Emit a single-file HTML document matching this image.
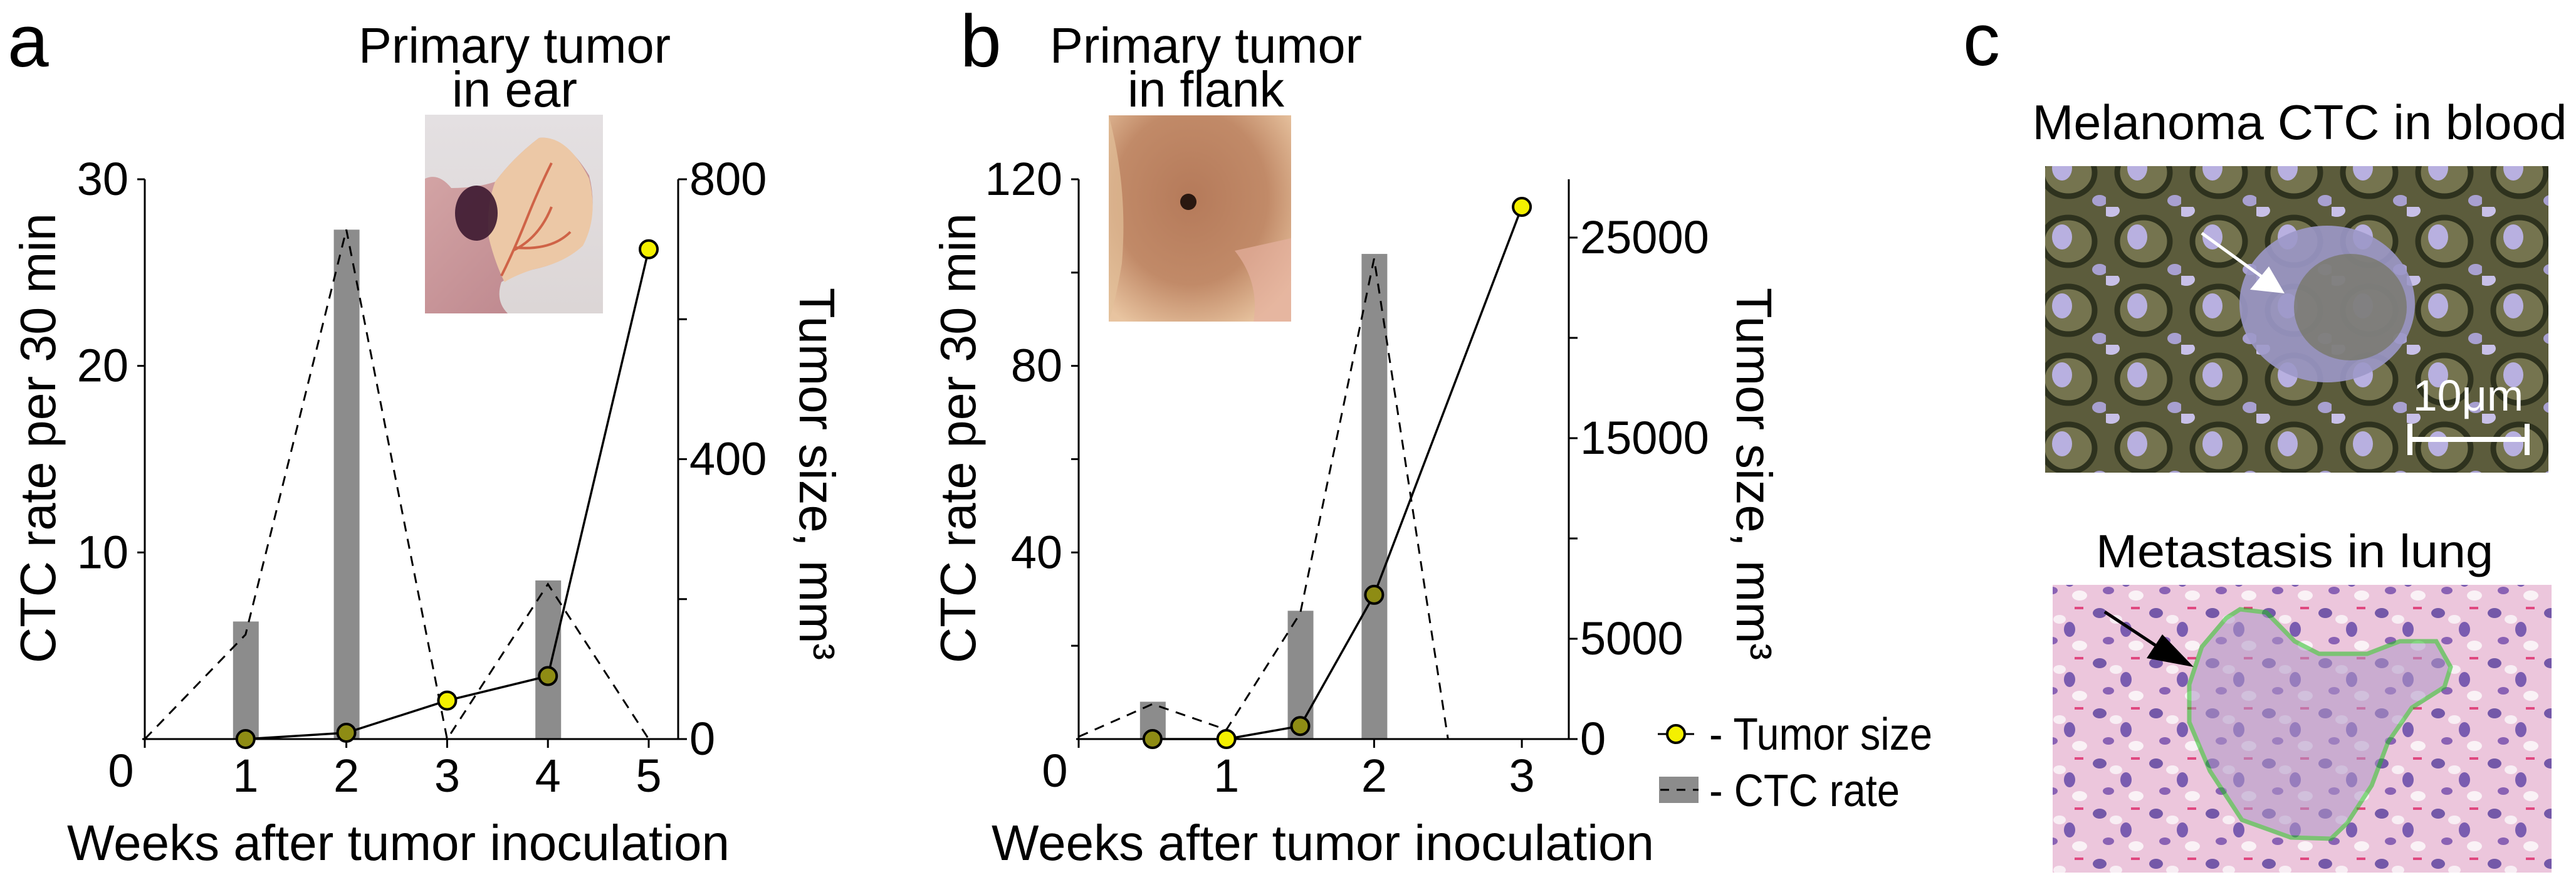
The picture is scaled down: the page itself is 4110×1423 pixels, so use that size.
<!DOCTYPE html>
<html><head><meta charset="utf-8"><style>
html,body{margin:0;padding:0;background:#fff}
svg{display:block}
text{font-family:"Liberation Sans",Arial,sans-serif;fill:#000}
</style></head><body>
<svg id="fig" width="4110" height="1423" viewBox="0 0 4110 1423" xmlns="http://www.w3.org/2000/svg">
<defs>
<radialGradient id="flankG" cx="0.45" cy="0.4" r="0.7"><stop offset="0" stop-color="#b57a5a"/><stop offset="0.6" stop-color="#c18a68"/><stop offset="1" stop-color="#e8c4a0"/></radialGradient>
<linearGradient id="earBg" x1="0" y1="0" x2="0" y2="1"><stop offset="0" stop-color="#e4e0e2"/><stop offset="1" stop-color="#dcd6d6"/></linearGradient>
<linearGradient id="bodyG" x1="0" y1="0" x2="1" y2="1"><stop offset="0" stop-color="#d6a8a8"/><stop offset="1" stop-color="#b88088"/></linearGradient>
<pattern id="bloodP" width="120" height="110" patternUnits="userSpaceOnUse">
<rect width="120" height="110" fill="#5c5c3c"/>
<ellipse cx="60" cy="55" rx="42" ry="38" fill="#75744f" stroke="#2e321e" stroke-width="9"/>
<ellipse cx="50" cy="48" rx="16" ry="20" fill="#b8b0e0"/>
<ellipse cx="8" cy="6" rx="14" ry="10" fill="#c8c0e8"/>
<ellipse cx="110" cy="100" rx="12" ry="9" fill="#a8a0d0"/>
</pattern>
<pattern id="lungP" width="90" height="80" patternUnits="userSpaceOnUse">
<rect width="90" height="80" fill="#ecc6dc"/>
<ellipse cx="20" cy="18" rx="11" ry="8" fill="#7458a8"/>
<ellipse cx="62" cy="44" rx="9" ry="12" fill="#7a5cb0"/>
<ellipse cx="34" cy="62" rx="9" ry="6" fill="#8a62b4"/>
<rect x="70" y="8" width="14" height="4" fill="#e04880"/>
<ellipse cx="78" cy="70" rx="12" ry="8" fill="#faf2f6"/>
<ellipse cx="46" cy="28" rx="10" ry="7" fill="#f8eef4"/>
</pattern>
</defs>
<g id="root"></g>
</svg>
<script>
// ---- Panel a data ----
const aBarWeeks = [1, 2, 4];
const aBarValues = [6.3, 27.3, 8.5];
const aDashWeeks = [0, 1, 2, 3, 4, 5];
const aDashValues = [0, 5.6, 27.3, 0, 8.3, 0];
const aTumorWeeks = [1, 2, 3, 4, 5];
const aTumorValues = [0, 9, 55, 90, 700];
const aTumorYellow = [false, false, true, false, true];
const aXTicks = [0, 1, 2, 3, 4, 5];
const aXTickLabels = ["", "1", "2", "3", "4", "5"];
const aLeftTicks = [10, 20, 30];
const aLeftTickLabels = ["10", "20", "30"];
const aRightTicks = [0, 200, 400, 600, 800];
const aRightTickLabels = ["0", "", "400", "", "800"];
// ---- Panel b data ----
const bBarWeeks = [0.5, 1.5, 2];
const bBarValues = [8, 27.5, 104];
const bDashWeeks = [0, 0.5, 1, 1.5, 2, 2.5, 3];
const bDashValues = [0.5, 7.5, 2, 27, 103, 0, 0];
const bTumorWeeks = [0.5, 1, 1.5, 2, 3];
const bTumorValues = [0, 0, 650, 7190, 26530];
const bTumorYellow = [false, true, false, false, true];
const bXTicks = [0, 1, 2, 3];
const bXTickLabels = ["", "1", "2", "3"];
const bLeftTicks = [20, 40, 60, 80, 100, 120];
const bLeftTickLabels = ["", "40", "", "80", "", "120"];
const bRightTicks = [0, 5000, 10000, 15000, 20000, 25000];
const bRightTickLabels = ["0", "5000", "", "15000", "", "25000"];

const NS = "http://www.w3.org/2000/svg";
const root = document.getElementById("root");
function el(tag, attrs, parent, txt) {
  const e = document.createElementNS(NS, tag);
  for (const k in attrs) e.setAttribute(k, attrs[k]);
  if (txt !== undefined) e.textContent = txt;
  (parent || root).appendChild(e);
  return e;
}

function drawChart(cfg) {
  const g = el("g", {});
  
  
  const X = v => cfg.x0 + v * cfg.xs;
  const YL = v => cfg.yBase - v * cfg.yls;
  const YR = v => cfg.yBase - v * cfg.yrs;
  cfg.barW.forEach((w, i) => {
    const h = cfg.barV[i];
    const r = el("rect", {x: X(w) - 20, y: YL(h), width: 41, height: cfg.yBase - YL(h), fill: "#8c8c8c"}, g);
    
    
  });
  const ax = el("path", {d: `M${cfg.x0 - 4} ${cfg.yBase} H${cfg.xR} M${cfg.x0} ${cfg.yTop} V${cfg.yBase + 14} M${cfg.xR} ${cfg.yTop} V${cfg.yBase}`, stroke: "#000", "stroke-width": 3, fill: "none"}, g);
  
  
  cfg.xt.forEach((t, i) => {
    el("line", {x1: X(t), x2: X(t), y1: cfg.yBase, y2: cfg.yBase + 14, stroke: "#000", "stroke-width": 3}, g);
    if (cfg.xtl[i]) {
      const tl = el("text", {x: X(t), y: cfg.yBase + 84, "font-size": 74, "text-anchor": "middle"}, g, cfg.xtl[i]);
      
      
    }
  });
  const zero = el("text", {x: cfg.x0 - 38, y: cfg.yBase + 76, "font-size": 74, "text-anchor": "middle"}, g, "0");
  
  
  cfg.lt.forEach((t, i) => {
    el("line", {x1: cfg.x0 - 12, x2: cfg.x0, y1: YL(t), y2: YL(t), stroke: "#000", "stroke-width": 3}, g);
    if (cfg.ltl[i]) {
      const tl = el("text", {x: cfg.x0 - 26, y: YL(t) + 25, "font-size": 74, "text-anchor": "end"}, g, cfg.ltl[i]);
      
      
    }
  });
  cfg.rt.forEach((t, i) => {
    el("line", {x1: cfg.xR, x2: cfg.xR + 14, y1: YR(t), y2: YR(t), stroke: "#000", "stroke-width": 3}, g);
    if (cfg.rtl[i]) {
      const tl = el("text", {x: cfg.xR + 18, y: YR(t) + 25, "font-size": 74}, g, cfg.rtl[i]);
      
      
    }
  });
  const dd = cfg.dW.map((w, i) => (i ? "L" : "M") + X(w).toFixed(1) + " " + YL(cfg.dV[i]).toFixed(1)).join(" ");
  const dl = el("path", {d: dd, stroke: "#000", "stroke-width": 3, "stroke-dasharray": "16 12", fill: "none"}, g);
  
  
  const td = cfg.tW.map((w, i) => (i ? "L" : "M") + X(w).toFixed(1) + " " + YR(cfg.tV[i]).toFixed(1)).join(" ");
  const tline = el("path", {d: td, stroke: "#000", "stroke-width": 3.5, fill: "none"}, g);
  
  
  cfg.tW.forEach((w, i) => {
    const c = el("circle", {cx: X(w), cy: YR(cfg.tV[i]), r: 14, fill: cfg.tY[i] ? "#f4f000" : "#8e8c14", stroke: "#000", "stroke-width": 4}, g);
    
    
  });
  const xt = el("text", {x: cfg.xTitleX, y: 1372, "font-size": 80, textLength: 1057, lengthAdjust: "spacingAndGlyphs"}, g, "Weeks after tumor inoculation");
  
  
  const lt = el("text", {x: 0, y: 0, "font-size": 80, "text-anchor": "middle", textLength: 718, lengthAdjust: "spacingAndGlyphs", transform: `translate(${cfg.lTitleX},699) rotate(-90)`}, g, "CTC rate per 30 min");
  
  
  const rtt = el("text", {x: 0, y: 0, "font-size": 80, "text-anchor": "middle", textLength: 594, lengthAdjust: "spacingAndGlyphs", transform: `translate(${cfg.rTitleX},756) rotate(90)`}, g, "Tumor size, mm³");
  
  
}

drawChart({name: "chart-a", x0: 231, xs: 160.8, xR: 1082, yBase: 1179, yTop: 286, yls: 893 / 30, yrs: 893 / 800,
  barW: aBarWeeks, barV: aBarValues, dW: aDashWeeks, dV: aDashValues, tW: aTumorWeeks, tV: aTumorValues, tY: aTumorYellow,
  xt: aXTicks, xtl: aXTickLabels, lt: aLeftTicks, ltl: aLeftTickLabels, rt: aRightTicks, rtl: aRightTickLabels,
  xTitleX: 107, lTitleX: 88, rTitleX: 1276});
drawChart({name: "chart-b", x0: 1721, xs: 235.7, xR: 2503, yBase: 1179, yTop: 286, yls: 893 / 120, yrs: 160 / 5000,
  barW: bBarWeeks, barV: bBarValues, dW: bDashWeeks, dV: bDashValues, tW: bTumorWeeks, tV: bTumorValues, tY: bTumorYellow,
  xt: bXTicks, xtl: bXTickLabels, lt: bLeftTicks, ltl: bLeftTickLabels, rt: bRightTicks, rtl: bRightTickLabels,
  xTitleX: 1582, lTitleX: 1556, rTitleX: 2771});
</script>
<script>
(function(){
const NS = "http://www.w3.org/2000/svg";
const svg = document.getElementById("fig");
function add(html){ const g=document.createElementNS(NS,"g"); g.innerHTML=html; svg.appendChild(g); return g; }
add(`
<text x="12" y="106" font-size="118">a</text>
<text x="1532" y="106" font-size="118">b</text>
<text x="3132" y="104" font-size="118">c</text>
<text x="821" y="100" font-size="80" text-anchor="middle" textLength="498" lengthAdjust="spacingAndGlyphs">Primary tumor</text>
<text x="821" y="170" font-size="80" text-anchor="middle" textLength="200" lengthAdjust="spacingAndGlyphs">in ear</text>
<text x="1924" y="100" font-size="80" text-anchor="middle" textLength="498" lengthAdjust="spacingAndGlyphs">Primary tumor</text>
<text x="1924" y="170" font-size="80" text-anchor="middle" textLength="250" lengthAdjust="spacingAndGlyphs">in flank</text>
<g>
<rect x="678" y="183" width="284" height="317" fill="url(#earBg)"/>
<path d="M678 285 Q700 275 720 300 Q760 300 790 290 Q820 250 860 220 Q900 215 940 280 Q955 340 930 390 Q900 420 850 430 Q815 440 800 450 Q790 480 810 500 L678 500 Z" fill="url(#bodyG)"/>
<path d="M790 290 Q820 250 860 220 Q905 215 940 285 Q955 345 930 392 Q900 420 850 430 Q820 440 805 450 Q790 420 780 380 Q775 330 790 290Z" fill="#ecc8a6"/>
<ellipse cx="760" cy="340" rx="34" ry="44" fill="#3c1830" opacity="0.9"/>
<path d="M800 440 Q820 400 840 350 M818 400 Q860 380 880 330 M840 350 Q860 300 880 260 M822 395 Q880 400 910 370" stroke="#c84a30" stroke-width="4" fill="none" opacity="0.8"/>
</g>
<g>
<rect x="1769" y="184" width="291" height="329" fill="url(#flankG)"/>
<path d="M1769 184 Q1800 300 1790 420 Q1780 480 1769 513Z" fill="#e2c09a" opacity="0.7"/>
<path d="M1970 400 Q2010 450 2000 513 L2060 513 L2060 380 Z" fill="#e6b0a0" opacity="0.7"/>
<circle cx="1896" cy="322" r="13" fill="#2a1810"/>
</g>
<text x="3669" y="222" font-size="78" text-anchor="middle" textLength="853" lengthAdjust="spacingAndGlyphs">Melanoma CTC in blood</text>
<g>
<rect x="3263" y="265" width="803" height="489" fill="url(#bloodP)"/>
<ellipse cx="3713" cy="485" rx="140" ry="125" fill="#9c98c8" opacity="0.9"/>
<ellipse cx="3750" cy="490" rx="90" ry="85" fill="#6e7050" opacity="0.6"/>
<line x1="3513" y1="372" x2="3615" y2="446" stroke="#fff" stroke-width="5"/>
<polygon points="3645,468 3590,462 3620,425" fill="#fff"/>
<text x="3938" y="655" font-size="70" text-anchor="middle" style="fill:#fff">10μm</text>
<path d="M3845 701 H4032 M3845 676 V726 M4032 676 V726" stroke="#fff" stroke-width="8" fill="none"/>
</g>
<text x="3661" y="905" font-size="74" text-anchor="middle" textLength="634" lengthAdjust="spacingAndGlyphs">Metastasis in lung</text>
<g>
<rect x="3275" y="933" width="796" height="459" fill="url(#lungP)"/>
<path d="M3574 972 L3616 977 L3661 1023 L3700 1043 L3777 1043 L3829 1023 L3887 1023 L3910 1064 L3900 1096 L3848 1129 L3810 1184 L3784 1253 L3745 1313 L3719 1338 L3655 1336 L3577 1308 L3526 1230 L3493 1152 L3493 1092 L3513 1032 L3552 986 Z" fill="#b098c8" opacity="0.55" stroke="#22c020" stroke-width="7"/>
<line x1="3358" y1="976" x2="3455" y2="1040" stroke="#000" stroke-width="5"/>
<polygon points="3500,1064 3425,1050 3450,1012" fill="#000"/>
</g>
<g>
<line x1="2645" y1="1171" x2="2703" y2="1171" stroke="#000" stroke-width="3"/>
<circle cx="2674" cy="1171" r="14" fill="#f4f000" stroke="#000" stroke-width="4"/>
<text x="2727" y="1196" font-size="72" textLength="356" lengthAdjust="spacingAndGlyphs">- Tumor size</text>
<rect x="2647" y="1239" width="63" height="42" fill="#8c8c8c"/>
<line x1="2649" y1="1260" x2="2710" y2="1260" stroke="#000" stroke-width="3" stroke-dasharray="14 12"/>
<text x="2727" y="1286" font-size="72" textLength="304" lengthAdjust="spacingAndGlyphs">- CTC rate</text>
</g>`);
})();
</script>
</body></html>
